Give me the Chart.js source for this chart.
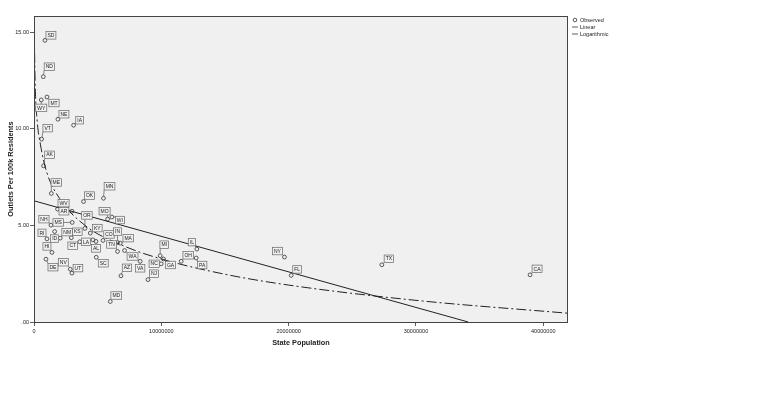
<!DOCTYPE html>
<html>
<head>
<meta charset="utf-8">
<script src="https://cdn.jsdelivr.net/npm/chart.js@4.4.0/dist/chart.umd.min.js"></script>
<style>
  html, body { margin: 0; padding: 0; background: #fff; }
  #wrap { width: 768px; height: 416px; }
</style>
</head>
<body>
<div id="wrap"><canvas id="chart"></canvas></div>
<script>
// ============================
// DATA
// ============================
const stateCodes = [
  "SD", "ND", "MT", "WY", "NE", "IA", "VT", "AK", "ME", "MN",
  "OK", "WV", "AR", "NH", "MS", "OR", "MO", "WI", "RI", "ID",
  "NM", "KS", "CT", "LA", "AL", "KY", "CO", "IN", "TN", "MA",
  "HI", "DE", "NV", "UT", "SC", "WA", "AZ", "VA", "MD", "MI",
  "NC", "NJ", "GA", "OH", "IL", "PA", "NY", "FL", "TX", "CA"
];

const statePopulation = [
  860000, 730000, 1020000, 570000, 1880000, 3110000, 600000, 750000, 1360000, 5460000,
  3890000, 1850000, 2980000, 1330000, 3000000, 4000000, 5780000, 6120000, 1020000, 1620000,
  2060000, 2930000, 3590000, 4630000, 4870000, 4420000, 5420000, 6560000, 6560000, 6770000,
  1410000, 940000, 2850000, 2980000, 4890000, 7110000, 6830000, 8340000, 5990000, 9910000,
  9990000, 8950000, 10170000, 11560000, 12790000, 12740000, 19670000, 20200000, 27320000, 38960000
];

const outletsPer100k = [
  14.57, 12.69, 11.64, 11.49, 10.49, 10.18, 9.46, 8.08, 6.65, 6.40,
  6.23, 5.84, 5.73, 5.01, 5.15, 4.84, 5.32, 5.43, 4.30, 4.68,
  4.34, 4.36, 4.15, 4.25, 4.17, 4.60, 4.22, 4.11, 3.65, 4.08,
  3.60, 3.25, 2.73, 2.53, 3.35, 3.70, 2.39, 3.14, 1.06, 3.43,
  3.01, 2.19, 3.26, 3.14, 3.77, 3.31, 3.36, 2.41, 2.96, 2.44
];

// fit lines as traced on the picture
const linearFitX = [0, 34100000];
const linearFitY = [6.27, 0];

const logFitX = [16000, 50000, 100000, 250000, 500000, 1000000, 2000000, 4000000,
  7000000, 10000000, 15000000, 20000000, 30000000, 42000000];
const logFitY = [15.8, 13.8, 12.1, 10.4, 9.2, 7.75, 6.4, 5.0,
  3.95, 3.26, 2.47, 1.91, 1.12, 0.45];

const xTickValues = [0, 10000000, 20000000, 30000000, 40000000];
const xTickLabels = ["0", "10000000", "20000000", "30000000", "40000000"];
const yTickValues = [0, 5, 10, 15];
const yTickLabels = [".00", "5.00", "10.00", "15.00"];

// where each label box sits relative to its point (px)
const labelOffsets = {
  SD: [6, -5], ND: [6, -10], MT: [7, 6], WY: [0, 8], NE: [6, -5], IA: [6, -5],
  VT: [6, -11], AK: [6, -11], ME: [5, -11], MN: [6, -12], OK: [6, -6], WV: [6, -6],
  AR: [-8, 0], NH: [-7, -6], MS: [-14, 0], OR: [2, -13], MO: [-3, -8], WI: [8, 3],
  RI: [-5, -6], ID: [0, 7], NM: [7, -6], KS: [6, -6], CT: [-7, 4], LA: [-7, 2],
  AL: [0, 7], KY: [7, -5], CO: [6, -6], IN: [0, -11], TN: [-6, -7], MA: [8, -5],
  HI: [-5, -6], DE: [7, 8], NV: [-7, -7], UT: [6, -5], SC: [7, 6], WA: [8, 6],
  AZ: [6, -8], VA: [0, 7], MD: [6, -6], MI: [4, -11], NC: [-7, 0], NJ: [6, -6],
  GA: [7, 6], OH: [7, -6], IL: [-5, -7], PA: [6, 7], NY: [-7, -6], FL: [6, -6],
  TX: [7, -6], CA: [7, -6]
};

const FONT = "'Liberation Sans', Arial, sans-serif";
const INK = "#222";

// ============================
// PLUGINS
// ============================
const plotFrame = {
  id: "plotFrame",
  beforeDraw(chart) {
    const { ctx, chartArea: a } = chart;
    ctx.save();
    ctx.fillStyle = "#f0f0f0";
    ctx.fillRect(a.left, a.top, a.right - a.left, a.bottom - a.top);
    ctx.restore();
  },
  afterDraw(chart) {
    const { ctx, chartArea: a } = chart;
    ctx.save();
    ctx.strokeStyle = "#444";
    ctx.lineWidth = 1;
    ctx.strokeRect(a.left + 0.5, a.top + 0.5, a.right - a.left - 1, a.bottom - a.top);
    ctx.restore();
  }
};

const stateLabels = {
  id: "stateLabels",
  afterDatasetsDraw(chart) {
    const { ctx } = chart;
    const meta = chart.getDatasetMeta(0);
    ctx.save();
    ctx.font = "5px " + FONT;
    ctx.textAlign = "center";
    ctx.textBaseline = "middle";
    meta.data.forEach((pt, i) => {
      const code = stateCodes[i];
      const off = labelOffsets[code] || [6, -6];
      const w = ctx.measureText(code).width + 3;
      const h = 7.5;
      const cx = pt.x + off[0];
      const cy = pt.y + off[1];
      const l = cx - w / 2, t = cy - h / 2;

      // leader line to nearest box edge
      const nx = Math.min(Math.max(pt.x, l), l + w);
      const ny = Math.min(Math.max(pt.y, t), t + h);
      const dist = Math.hypot(nx - pt.x, ny - pt.y);
      if (dist > 2) {
        const ux = (nx - pt.x) / dist, uy = (ny - pt.y) / dist;
        ctx.strokeStyle = "#555";
        ctx.lineWidth = 0.7;
        ctx.beginPath();
        ctx.moveTo(pt.x + ux * 2, pt.y + uy * 2);
        ctx.lineTo(nx, ny);
        ctx.stroke();
      }

      ctx.fillStyle = "#f0f0f0";
      ctx.fillRect(l, t, w, h);
      ctx.strokeStyle = "#666";
      ctx.lineWidth = 0.7;
      ctx.strokeRect(l, t, w, h);
      ctx.fillStyle = INK;
      ctx.fillText(code, cx, cy + 0.3);
    });
    ctx.restore();
  }
};

const sideLegend = {
  id: "sideLegend",
  afterDraw(chart) {
    const { ctx } = chart;
    const sets = chart.data.datasets;
    const x0 = 572, y0 = 20, gap = 7;
    ctx.save();
    ctx.font = "5.5px " + FONT;
    ctx.textBaseline = "middle";
    ctx.textAlign = "left";
    sets.forEach((ds, i) => {
      const y = y0 + i * gap;
      ctx.strokeStyle = "#333";
      ctx.lineWidth = 0.8;
      ctx.beginPath();
      if (i === 0) {
        ctx.arc(x0 + 3, y, 1.8, 0, Math.PI * 2);
      } else {
        ctx.moveTo(x0, y);
        ctx.lineTo(x0 + 6, y);
      }
      ctx.stroke();
      ctx.fillStyle = INK;
      ctx.fillText(ds.label, x0 + 8, y);
    });
    ctx.restore();
  }
};

// ============================
// CHART
// ============================
const observedPoints = statePopulation.map((p, i) => ({ x: p, y: outletsPer100k[i] }));
const linearPoints = linearFitX.map((x, i) => ({ x, y: linearFitY[i] }));
const logPoints = logFitX.map((x, i) => ({ x, y: logFitY[i] }));

new Chart(document.getElementById("chart").getContext("2d"), {
  type: "scatter",
  data: {
    datasets: [
      {
        label: "Observed",
        data: observedPoints,
        pointRadius: 1.9,
        pointBorderWidth: 0.8,
        pointBorderColor: "#333",
        pointBackgroundColor: "rgba(0,0,0,0)",
        order: 2
      },
      {
        label: "Linear",
        type: "line",
        data: linearPoints,
        borderColor: "#222",
        borderWidth: 1,
        pointRadius: 0,
        fill: false,
        order: 1
      },
      {
        label: "Logarithmic",
        type: "line",
        data: logPoints,
        borderColor: "#222",
        borderWidth: 1,
        borderDash: [10, 3, 2, 3],
        pointRadius: 0,
        fill: false,
        cubicInterpolationMode: "monotone",
        order: 1
      }
    ]
  },
  options: {
    responsive: true,
    maintainAspectRatio: false,
    animation: false,
    layout: { padding: { left: 0, top: 16, right: 200, bottom: 69 } },
    plugins: {
      legend: { display: false },
      tooltip: { enabled: false }
    },
    scales: {
      x: {
        type: "linear",
        min: 0,
        max: 41940000,
        afterFit: s => { s.height = 25; },
        afterBuildTicks: s => { s.ticks = xTickValues.map(v => ({ value: v })); },
        ticks: {
          autoSkip: false,
          maxRotation: 0,
          padding: 2,
          color: INK,
          font: { family: FONT, size: 5.5 },
          callback: v => {
            const i = xTickValues.indexOf(v);
            return i >= 0 ? xTickLabels[i] : "";
          }
        },
        grid: { drawOnChartArea: false, tickLength: 4, tickColor: "#333", tickWidth: 0.8 },
        border: { display: false },
        title: {
          display: true,
          text: "State Population",
          color: INK,
          padding: { top: 0, bottom: 0 },
          font: { family: FONT, size: 7.3, weight: "bold" }
        }
      },
      y: {
        type: "linear",
        min: 0,
        max: 15.83,
        afterFit: s => { s.width = 34; },
        afterBuildTicks: s => { s.ticks = yTickValues.map(v => ({ value: v })); },
        ticks: {
          padding: 1,
          color: INK,
          font: { family: FONT, size: 5.5 },
          callback: v => {
            const i = yTickValues.indexOf(v);
            return i >= 0 ? yTickLabels[i] : "";
          }
        },
        grid: { drawOnChartArea: false, tickLength: 4, tickColor: "#333", tickWidth: 0.8 },
        border: { display: false },
        title: {
          display: true,
          text: "Outlets Per 100k Residents",
          color: INK,
          padding: { top: 7, bottom: 0 },
          font: { family: FONT, size: 7.4, weight: "bold" }
        }
      }
    }
  },
  plugins: [plotFrame, stateLabels, sideLegend]
});
</script>
</body>
</html>
